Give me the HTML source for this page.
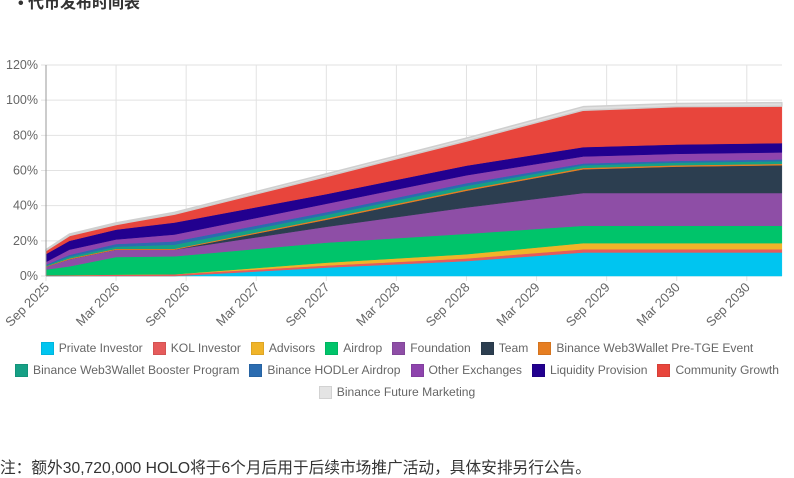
<!DOCTYPE html>
<html><head><meta charset="utf-8">
<style>
body{margin:0;width:794px;height:478px;overflow:hidden;background:#fff;font-family:"Liberation Sans","Noto Sans CJK SC",sans-serif;position:relative}
.title{position:absolute;left:18px;top:-11px;font-size:16px;font-weight:bold;color:#333;white-space:nowrap}
.note{position:absolute;left:0;top:455px;font-size:15.7px;color:#333;white-space:nowrap}
.legend{position:absolute;left:0;width:794px;display:flex;justify-content:center;font-size:12.1px;color:#666;white-space:nowrap}
.li{display:flex;align-items:center;margin:0 5px;white-space:nowrap;flex:none}
.sw{width:11px;height:11px;margin-right:5px;border:1.5px solid rgba(0,0,0,0.08)}
</style></head><body>
<div class="title">• 代币发布时间表</div>
<svg id="chart" width="794" height="340" style="position:absolute;left:0;top:0"></svg>
<div class="legend" style="top:341px">
<div class="li"><span class="sw" style="background:#00c5f0"></span>Private Investor</div>
<div class="li"><span class="sw" style="background:#e55b5b"></span>KOL Investor</div>
<div class="li"><span class="sw" style="background:#f0b429"></span>Advisors</div>
<div class="li"><span class="sw" style="background:#00c46a"></span>Airdrop</div>
<div class="li"><span class="sw" style="background:#8e4ea6"></span>Foundation</div>
<div class="li"><span class="sw" style="background:#2c3e50"></span>Team</div>
<div class="li"><span class="sw" style="background:#e67e22"></span>Binance Web3Wallet Pre-TGE Event</div>
</div>
<div class="legend" style="top:363px">
<div class="li"><span class="sw" style="background:#16a085"></span>Binance Web3Wallet Booster Program</div>
<div class="li"><span class="sw" style="background:#2b6cb0"></span>Binance HODLer Airdrop</div>
<div class="li"><span class="sw" style="background:#8e44ad"></span>Other Exchanges</div>
<div class="li"><span class="sw" style="background:#22008f"></span>Liquidity Provision</div>
<div class="li"><span class="sw" style="background:#e8453c"></span>Community Growth</div>
</div>
<div class="legend" style="top:385px">
<div class="li"><span class="sw" style="background:#e4e4e4"></span>Binance Future Marketing</div>
</div>
<div class="note">注：额外30,720,000 HOLO将于6个月后用于后续市场推广活动，具体安排另行公告。</div>
<script>
const months=[0,2,6,11,24,36,46,54,63];
const seriesNames=["Private Investor","KOL Investor","Advisors","Airdrop","Foundation","Team","Pre-TGE","Booster","HODLer","Other Exchanges","Liquidity Provision","Community Growth","Future Marketing"];
const privateInv=[0,0,0,0,4.8,8.5,13.4,13.4,13.4];
const kol=[0.4,0.5,0.8,1,1.2,1.5,1.8,1.8,1.8];
const advisors=[0,0,0,0,1.6,2.4,3.5,3.5,3.5];
const airdrop=[3.3,5,10,10.2,11.4,11.6,9.9,9.9,9.9];
const foundation=[1.5,4,4.2,3.8,9,15,18.6,18.6,18.6];
const team=[0,0,0,0,4,9.5,13.5,15,15.8];
const preTge=[0.3,0.5,0.5,0.5,0.8,0.8,0.8,0.8,0.8];
const booster=[0.5,1,1.2,2.3,2,2,1.5,1.5,1.5];
const hodler=[0.5,1,1.5,1.9,1.5,1.5,1,1,1];
const otherEx=[1.5,3,2.6,3.9,4.8,4.5,4,4,4];
const liquidity=[4.5,5,5.6,6.8,5.5,5.5,5.3,5.3,5.3];
const community=[2,3,2.9,4.8,10,14,21,21.5,21];
const futureMkt=[0.5,0.8,0.9,1,1.5,1.6,2,1.8,2];
const tickLabels=["Sep 2025","Mar 2026","Sep 2026","Mar 2027","Sep 2027","Mar 2028","Sep 2028","Mar 2029","Sep 2029","Mar 2030","Sep 2030"];
const yTicks=[0,20,40,60,80,100,120];
const colors=["#00c5f0","#e55b5b","#f0b429","#00c46a","#8e4ea6","#2c3e50","#e67e22","#16a085","#2b6cb0","#8e44ad","#22008f","#e8453c","#e0e0e0"];
const all=[privateInv,kol,advisors,airdrop,foundation,team,preTge,booster,hodler,otherEx,liquidity,community,futureMkt];
const X0=46,MW=11.68,Y0=276,PY=1.7583;
const x=m=>X0+m*MW, y=v=>Y0-v*PY;
const svg=document.getElementById('chart');
const NS="http://www.w3.org/2000/svg";
function mk(t,a){const e=document.createElementNS(NS,t);for(const k in a)e.setAttribute(k,a[k]);svg.appendChild(e);return e;}
yTicks.forEach(v=>{
 const l=mk('line',{x1:41,x2:782,y1:y(v),y2:y(v),stroke:'#e2e2e2','stroke-width':1});
 
 
 const t=mk('text',{x:38,y:y(v)+4,'text-anchor':'end','font-size':12.5,fill:'#666','font-family':'Liberation Sans, sans-serif'});
 t.textContent=v+'%';
 
 
});
tickLabels.forEach((s,i)=>{
 const xx=x(i*6);
 const l=mk('line',{x1:xx,x2:xx,y1:65,y2:281,stroke:'#e2e2e2','stroke-width':1});
 
 
 const t=mk('text',{x:xx+4,y:288,'text-anchor':'end','font-size':13,fill:'#666','font-family':'Liberation Sans, sans-serif',transform:`rotate(-45 ${xx+4} 288)`});
 t.textContent=s;
 
 
});
let base=months.map(()=>0);
all.forEach((s,si)=>{
 const top=base.map((b,i)=>b+s[i]);
 let d='M'+months.map((m,i)=>x(m)+','+y(top[i])).join('L');
 for(let i=months.length-1;i>=0;i--)d+='L'+x(months[i])+','+y(base[i]);
 d+='Z';
 const p=mk('path',{d:d,fill:colors[si],stroke:si==12?'#cfcfcf':colors[si],'stroke-width':si==12?1.5:0.5,'stroke-linejoin':'round'});
 
 
 base=top;
});
const ax=mk('line',{x1:46,x2:46,y1:65,y2:276,stroke:'#999','stroke-width':1});


</script>
</body></html>
